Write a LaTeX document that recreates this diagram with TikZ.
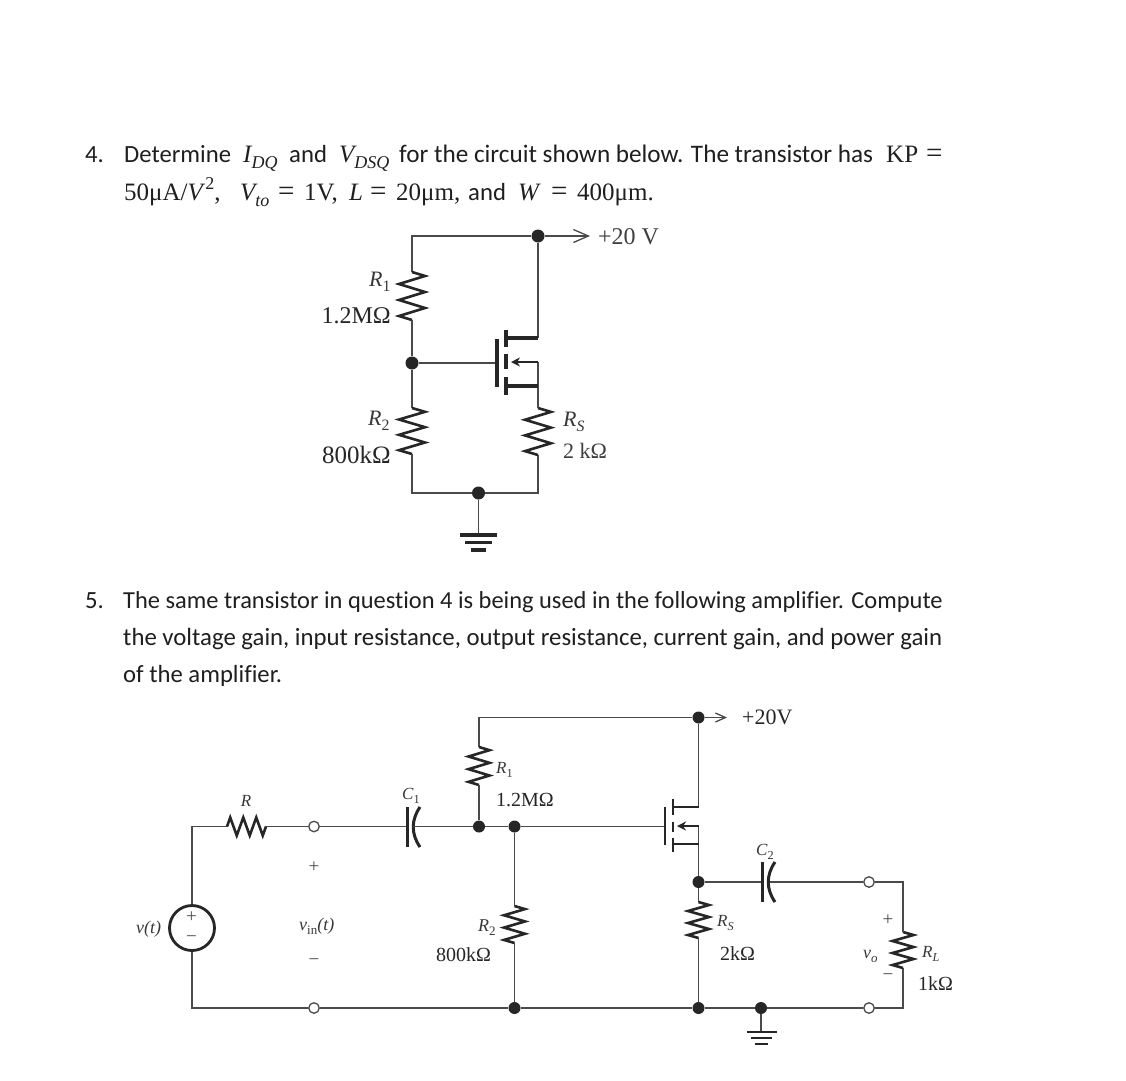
\documentclass[tikz,border=0pt]{standalone}
\usepackage{fontspec}
\setmainfont{Carlito}[Ligatures=NoCommon]
\newfontfamily\ser{Liberation Serif}
\usetikzlibrary{calc,arrows.meta}
\makeatletter
\newcommand\dn[1]{\raisebox{-.25em}{\fontsize{\strip@pt\dimexpr0.72\dimexpr\f@size pt\relax\relax}{1}\selectfont #1}}
\newcommand\upp[1]{\raisebox{.42em}{\fontsize{\strip@pt\dimexpr0.72\dimexpr\f@size pt\relax\relax}{1}\selectfont #1}}
\makeatother
\definecolor{wirec}{HTML}{4A4A4A}
\definecolor{inkc}{HTML}{262626}
\tikzset{
  wire/.style={draw=wirec,line width=1.6pt},
  heavy/.style={draw=inkc,line width=3.4pt},
  heavyb/.style={draw=inkc,line width=2.9pt},
  capp/.style={draw=inkc,line width=3pt},
  res/.style={draw=inkc,line width=2.6pt,miter limit=10,to path={
    -- ($(\tikztostart)!0.083!(\tikztotarget)!#1!90:(\tikztotarget)$)
    -- ($(\tikztostart)!0.25!(\tikztotarget)!#1!-90:(\tikztotarget)$)
    -- ($(\tikztostart)!0.417!(\tikztotarget)!#1!90:(\tikztotarget)$)
    -- ($(\tikztostart)!0.583!(\tikztotarget)!#1!-90:(\tikztotarget)$)
    -- ($(\tikztostart)!0.75!(\tikztotarget)!#1!90:(\tikztotarget)$)
    -- ($(\tikztostart)!0.917!(\tikztotarget)!#1!-90:(\tikztotarget)$)
    -- (\tikztotarget)}},
  dot/.style={circle,fill=inkc,draw=none,inner sep=0pt,minimum size=#1},
  dot/.default=13pt,
  openc/.style={circle,fill=white,draw=wirec,line width=1.3pt,inner sep=0pt,minimum size=10.5pt},
  body/.style={anchor=base west,inner sep=0pt,text=black!88,font=\fontsize{#1}{30}\selectfont},
  body/.default=24.7,
  mth/.style={anchor=base west,inner sep=0pt,text=black!88,font=\ser\fontsize{25}{30}\selectfont},
  eqs/.style={anchor=base west,inner sep=0pt,text=black!88,font=\ser\fontsize{29}{30}\selectfont},
  mthi/.style={anchor=base west,inner sep=0pt,text=black!88,font=\ser\itshape\fontsize{25}{30}\selectfont},
  bigl/.style={inner sep=0pt,text=inkc,font=\ser\fontsize{#1}{26}\selectfont},
  midl/.style={inner sep=0pt,text=inkc,font=\ser\fontsize{#1}{24}\selectfont},
  midl/.default=20,
  lab/.style={inner sep=0pt,text=black!78,font=\ser\itshape\fontsize{#1}{24}\selectfont},
  lab/.default=22,
  sgn/.style={inner sep=0pt,text=black!70,font=\ser\fontsize{19}{20}\selectfont},
  barb/.style={-{Straight Barb[length=15pt,width=13pt,line width=1.3pt]}},
  barbs/.style={-{Straight Barb[length=10pt,width=9pt,line width=1.3pt]}},
  tipa/.style={-{Stealth[length=9pt,width=9pt]}}
}
\begin{document}
\begin{tikzpicture}[x=1pt,y=-1pt]
\fill[white] (0,0) rectangle (1126,1080);
\useasboundingbox (0,0) rectangle (1126,1080);

% --- question 4 text
\node[body] (q4n) at (85,162) {4.};
\node[body] (q4a) at (124,162) {Determine};
\node[mthi] (q4b) at (243,162) {I\dn{DQ}};
\node[body] (q4c) at (289,162) {and};
\node[mthi] (q4d) at (339,162) {V\dn{DSQ}};
\node[body=25.2] (q4e) at (399,162) {for the circuit shown below. The transistor has};
\node[mth] (q4f) at (886,162) {KP};
\node[eqs] (q4g) at (926,162) {=};
\node[mth] (q4h) at (124,200) {50μA/\textit{V}\upp{2},};
\node[mthi] (q4i) at (240,200) {V\dn{to}};
\node[eqs] (q4j) at (278,200) {=};
\node[mth] (q4k) at (304,200) {1V,};
\node[mthi] (q4l) at (349,200) {L};
\node[eqs] (q4m) at (370,200) {=};
\node[mth] (q4o) at (396,200) {20μm,};
\node[body] (q4p) at (468,200) {and};
\node[mthi] (q4q) at (518,200) {W};
\node[eqs] (q4r) at (551,200) {=};
\node[mth] (q4s) at (577,200) {400μm.};

% --- question 5 text
\node[body] (q5n) at (85,608) {5.};
\node[body=24.43] (q5a) at (123,608) {The same transistor in question 4 is being used in the following amplifier. Compute};
\node[body=24.78] (q5b) at (123,645) {the voltage gain, input resistance, output resistance, current gain, and power gain};
\node[body] (q5c) at (123,682) {of the amplifier.};

% --- circuit 1
\coordinate (atl) at (412,236);
\node[dot] (atop) at (538,236) {};
\coordinate (aarrow) at (590,236);
\coordinate (ar1t) at (412,272);
\coordinate (ar1b) at (412,320);
\node[dot] (agn) at (412,363) {};
\coordinate (ar2t) at (412,408);
\coordinate (ar2b) at (412,454);
\coordinate (abl) at (412,493);
\node[dot] (abot) at (478.5,493) {};
\coordinate (abr) at (538,493);
\coordinate (arst) at (538,408);
\coordinate (arsb) at (538,455);
\coordinate (agate) at (497,363);
\coordinate (ad) at (538,338);
\coordinate (as) at (538,362);
\coordinate (ab) at (538,386);
\coordinate (agnd) at (478.5,535);

\draw[wire] (ar1t) -- (atl) -- (atop);
\draw[wire,barb] (atop) -- (aarrow);
\draw[res=13pt] (ar1t) to (ar1b);
\draw[wire] (ar1b) -- (agn) -- (ar2t);
\draw[res=13pt] (ar2t) to (ar2b);
\draw[wire] (ar2b) -- (abl) -- (abot) -- (abr) -- (arsb);
\draw[res=13pt] (arst) to (arsb);
\draw[wire] (atop) -- (ad);
\draw[wire] (as) -- (arst);
\draw[wire] (agn) -- (agate);
\draw[heavy] (agate |- 0,339) -- (agate |- 0,387);
\draw[heavy] (506,330) -- (506,347);
\draw[heavy] (506,354) -- (506,369);
\draw[heavy] (506,377) -- (506,395);
\draw[heavy] (506,338) -- (ad);
\draw[heavy] (506,386) -- (ab);
\draw[inkc,line width=2.4pt,tipa] (as) -- (511,362);
\draw[wire] (abot) -- (agnd);
\draw[heavy] (460,535) -- (497,535);
\draw[heavy] (465,542.5) -- (492,542.5);
\draw[heavy] (471,550) -- (486,550);

\node[lab,anchor=base west] (ar1l) at (369,286) {R\dn{\upshape 1}};
\node[bigl=24,anchor=base east] (ar1v) at (391,323) {1.2MΩ};
\node[lab,anchor=base west] (ar2l) at (368,425) {R\dn{\upshape 2}};
\node[bigl=25,anchor=base east] (ar2v) at (391,463) {800kΩ};
\node[lab,anchor=base west] (arsl) at (563,426) {R\dn{S}};
\node[bigl=22,anchor=base west,text=black!75] (arsv) at (563,458) {2 kΩ};
\node[bigl=24,anchor=base west,text=black!75] (av) at (598,244) {+20 V};

% --- circuit 2
\node[dot=12pt] (btop) at (698.5,717.5) {};
\coordinate (btl) at (479,717.5);
\coordinate (barrow) at (727,717.5);
\coordinate (br1t) at (479,747);
\coordinate (br1b) at (479,785);
\node[dot=12pt] (bj1) at (479,826.5) {};
\node[dot=12pt] (bj2) at (514.5,826.5) {};
\coordinate (bgate) at (665,826.5);
\coordinate (btlw) at (191,826.5);
\coordinate (brt) at (227,826.5);
\coordinate (brb) at (266,826.5);
\node[openc] (bo1) at (314,826.5) {};
\coordinate (bc1a) at (407,826.5);
\coordinate (bc1b) at (412.5,826.5);
\node[circle,draw=inkc,line width=2.8pt,fill=none,minimum size=45pt,inner sep=0pt] (bsrc) at (192,928) {};
\coordinate (bbl) at (191,1008);
\node[openc] (bo2) at (314,1008) {};
\node[dot=12pt] (bj3) at (514.5,1008) {};
\node[dot=12pt] (bj4) at (698.5,1008) {};
\node[dot=12pt] (bj5) at (761,1008) {};
\node[openc] (bo3) at (869,1008) {};
\node[openc] (bo4) at (869,882) {};
\coordinate (bbr) at (903,1008);
\coordinate (btr) at (903,882);
\coordinate (brlt) at (903,932);
\coordinate (brlb) at (903,968);
\coordinate (br2t) at (514.5,906);
\coordinate (br2b) at (514.5,943);
\coordinate (bd) at (698.5,807);
\coordinate (bs) at (698.5,826);
\coordinate (bb) at (698.5,844);
\node[dot=12pt] (bout) at (698.5,882) {};
\coordinate (brst) at (698.5,902);
\coordinate (brsb) at (698.5,938);
\coordinate (bc2a) at (762,882);
\coordinate (bc2b) at (767.5,882);
\coordinate (bgnd) at (761,1032);

\draw[wire] (br1t) -- (btl) -- (btop);
\draw[wire,barbs] (btop) -- (barrow);
\draw[res=10.5pt] (br1t) to (br1b);
\draw[wire] (br1b) -- (bj1);
\draw[wire] (bsrc) -- (bsrc |- btlw) -- (brt);
\draw[res=9pt] (brt) to (brb);
\draw[wire] (brb) -- (bo1) -- (bc1a);
\draw[capp] (407,807) -- (407,847);
\draw[capp] (420,807) .. controls (411,820) and (411,834) .. (420,847);
\draw[wire] (bc1b) -- (bj1) -- (bj2) -- (bgate);
\draw[wire] (bj2) -- (br2t);
\draw[res=10.5pt] (br2t) to (br2b);
\draw[wire] (br2b) -- (bj3);
\draw[wire] (bsrc) -- (bsrc |- bbl) -- (bo2) -- (bj3) -- (bj4) -- (bj5) -- (bo3) -- (bbr) -- (brlb);
\draw[res=10.5pt] (brlt) to (brlb);
\draw[wire] (brlt) -- (btr) -- (bo4) -- (bc2b);
\draw[wire] (bc2a) -- (bout);
\draw[capp] (762,862) -- (762,902);
\draw[capp] (775,862) .. controls (766,875) and (766,889) .. (775,902);
\draw[wire] (btop) -- (bd);
\draw[wire] (bs) -- (bout) -- (brst);
\draw[res=10.5pt] (brst) to (brsb);
\draw[wire] (brsb) -- (bj4);
\draw[heavyb] (bgate |- 0,807) -- (bgate |- 0,845);
\draw[heavyb] (673,799) -- (673,815);
\draw[heavyb] (673,822) -- (673,832);
\draw[heavyb] (673,838) -- (673,852);
\draw[heavyb] (673,807) -- (bd);
\draw[heavyb] (673,844) -- (bb);
\draw[inkc,line width=2pt,tipa] (bs) -- (677,826);
\draw[wire] (bj5) -- (bgnd);
\draw[heavyb] (747,1032) -- (777,1032);
\draw[heavyb] (751,1038) -- (772,1038);
\draw[heavyb] (755,1044) -- (768,1044);

\node[sgn] (bsp) at (191.5,917) {+};
\node[sgn] (bsm) at (191.5,939) {−};

\node[midl=22,anchor=base west] (bv) at (742,724) {+20V};
\node[lab=17,anchor=base west] (br1l) at (496,773) {R\dn{\upshape 1}};
\node[midl,anchor=base west] (br1v) at (496,806) {1.2MΩ};
\node[lab=17] (brl) at (246,801) {R};
\node[lab=17,anchor=base west] (bc1l) at (402,799) {C\dn{\upshape 1}};
\node[lab=18,anchor=base west] (bvt) at (136,933) {v(t)};
\node[sgn] (bp1) at (314,867) {+};
\node[lab=18,anchor=base west] (bvin) at (299,930) {v\dn{\upshape in}(t)};
\node[sgn] (bm1) at (314,962) {−};
\node[lab=18,anchor=base west] (br2l) at (478,931) {R\dn{\upshape 2}};
\node[midl,anchor=base west] (br2v) at (436,961) {800kΩ};
\node[lab=17,anchor=base west] (bc2l) at (756,855) {C\dn{\upshape 2}};
\node[lab=17,anchor=base west] (brsl) at (717,926) {R\dn{S}};
\node[midl,anchor=base west] (brsv) at (720,960) {2kΩ};
\node[sgn] (bp2) at (888,920) {+};
\node[lab=18,anchor=base west] (bvo) at (863,958) {v\dn{o}};
\node[sgn] (bm2) at (888,977) {−};
\node[lab=17,anchor=base west] (brll) at (922,957) {R\dn{L}};
\node[midl,anchor=base west] (brlv) at (918,990) {1kΩ};
\end{tikzpicture}
\end{document}
